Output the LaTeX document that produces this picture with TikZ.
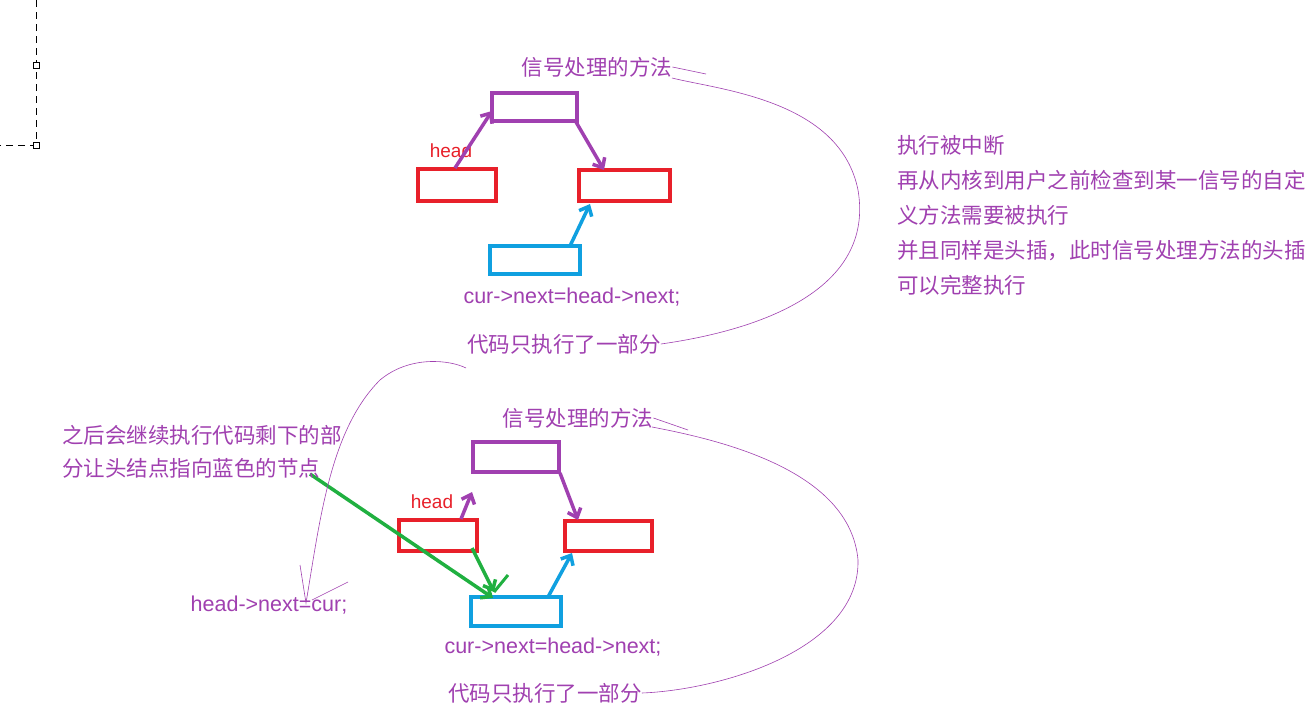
\documentclass[tikz,border=0pt]{standalone}
\usepackage{fontspec}
\newfontfamily\cjk{Noto Sans CJK SC}
\setmainfont{Liberation Sans}
\usetikzlibrary{arrows.meta}
\definecolor{pur}{HTML}{A040B0}
\definecolor{rd}{HTML}{E8202A}
\definecolor{bl}{HTML}{10A0E0}
\definecolor{gr}{HTML}{20B040}
\tikzset{
 box/.style={draw=#1,line width=3.5pt,inner sep=0pt},
 arr/.style={draw=#1,line width=3.5pt,-{Straight Barb[length=8pt,width=14pt]}},
 lbl/.style={text=pur,font=\cjk\fontsize{21.5}{26}\selectfont,inner sep=0pt},
 code/.style={text=pur,font=\fontsize{21.5}{26}\selectfont,inner sep=0pt},
 thin/.style={draw=pur,line width=0.6pt}
}
\begin{document}
\begin{tikzpicture}[x=1pt,y=-1pt]
\useasboundingbox (0,0) rectangle (1315,704);
\fill[white] (0,0) rectangle (1315,704);
% top-left dashed
\draw[dashed,line width=0.7pt,dash pattern=on 7pt off 5pt] (36,0) -- (36,145) -- (0,145);
\draw[fill=white,line width=0.6pt] (33,62) rectangle (39,68) (33,142) rectangle (39,148);
% ---- top
\node[lbl] (t1) at (597,67) {信号处理的方法};
\node[box=pur,minimum width=85pt,minimum height=28pt] (p1) at (534.5,107) {};
\node[box=rd,minimum width=78pt,minimum height=32pt] (l1) at (457,185) {};
\node[box=rd,minimum width=91pt,minimum height=31pt] (r1) at (624.5,185.5) {};
\node[box=bl,minimum width=90pt,minimum height=28pt] (b1) at (535,260) {};
\node[text=rd,font=\fontsize{19}{22}\selectfont] (h1) at (451,151) {head};
\draw[arr=pur] (455,168) -- (492,111);
\draw[arr=pur] (576,122) -- (604,170);
\draw[arr=bl] (570,246) -- (590,204);
\node[code] (c1) at (572,297) {cur->next=head->next;};
\node[lbl] (d1) at (564,344) {代码只执行了一部分};
\draw[thin] (t1.east) -- (706,74);
\draw[thin] (672,78) .. controls (720,90) and (840,100) .. (858,190) .. controls (875,290) and (760,330) .. (d1.east);
\node[lbl,anchor=west,align=left,font=\cjk\fontsize{21.5}{35}\selectfont] (rt) at (897,215) {执行被中断\\再从内核到用户之前检查到某一信号的自定\\义方法需要被执行\\并且同样是头插，此时信号处理方法的头插\\可以完整执行};
% ---- bottom
\node[lbl] (t2) at (578,418) {信号处理的方法};
\node[box=pur,minimum width=86pt,minimum height=30pt] (p2) at (516,457) {};
\node[box=rd,minimum width=78pt,minimum height=31pt] (l2) at (438,535.5) {};
\node[box=rd,minimum width=87pt,minimum height=30pt] (r2) at (608.5,536) {};
\node[box=bl,minimum width=90pt,minimum height=29pt] (b2) at (516,611.5) {};
\node[text=rd,font=\fontsize{19}{22}\selectfont] (h2) at (432,502) {head};
\draw[arr=pur] (461,519) -- (472,492);
\draw[arr=pur] (560,473) -- (578,520);
\draw[arr=bl] (548,597) -- (572,553);
\draw[arr=gr] (310,474) -- (493,598);
\draw[arr=gr] (472,548) -- (494,592);
\draw[gr,line width=3pt] (494,592) -- (508,575);
\node[code] (c2) at (553,647) {cur->next=head->next;};
\node[lbl] (d2) at (545,693) {代码只执行了一部分};
\node[code] (hn) at (269,605) {head->next=cur;};
\node[lbl,anchor=west,align=left,font=\cjk\fontsize{21.5}{33}\selectfont] (lt) at (62,452) {之后会继续执行代码剩下的部\\分让头结点指向蓝色的节点};
\draw[thin] (t2.east) -- (688,430);
\draw[thin] (652,427) .. controls (720,440) and (850,470) .. (858,560) .. controls (860,650) and (720,690) .. (d2.east);
\draw[thin] (300,565) -- (306,603) .. controls (320,520) and (330,430) .. (380,380) .. controls (410,355) and (450,360) .. (466,368);
\draw[thin] (312,600) -- (348,582);
\end{tikzpicture}
\end{document}
